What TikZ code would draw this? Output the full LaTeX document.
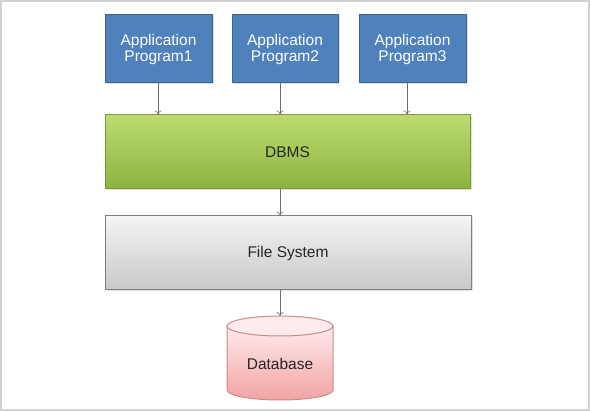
\documentclass[tikz,border=0pt]{standalone}
\usepackage{fontspec}
\setmainfont{Liberation Sans}
\usetikzlibrary{shadows,arrows.meta}

\definecolor{appblue}{HTML}{4F81BD}
\definecolor{appedge}{HTML}{3A6292}
\definecolor{dbmstop}{HTML}{BBDB70}
\definecolor{dbmsbot}{HTML}{8DB33E}
\definecolor{dbmsedge}{HTML}{7A9A38}
\definecolor{fstop}{HTML}{F4F4F4}
\definecolor{fsbot}{HTML}{C8C8C8}
\definecolor{fsedge}{HTML}{7F7F7F}
\definecolor{dbtop}{HTML}{FDEBEB}
\definecolor{dbbot}{HTML}{F4A3A3}
\definecolor{dbedge}{HTML}{C98A89}
\definecolor{arrowgray}{HTML}{6E6E6E}

\begin{document}
\begin{tikzpicture}[x=1pt,y=-1pt,
    font=\fontsize{15.5}{16}\selectfont,
    layer/.style={draw,line width=1pt,align=center,
      drop shadow={opacity=0.25,shadow xshift=1.5pt,shadow yshift=-1.5pt}},
    feed/.style={draw=arrowgray,line width=0.6pt,-{To[length=4pt,width=7pt]}}]

      \useasboundingbox (0,0) rectangle (590,411);
      \draw[gray!35,line width=1.5pt] (1,1) rectangle (589,410);

      \begin{scope}[every node/.style={layer,fill=appblue,draw=appedge,text=white,
          minimum height=68pt}]
        \node (app1) at (158.5,49) [minimum width=107pt] {Application\\Program1};
        \node (app2) at (285,49)   [minimum width=106pt] {Application\\Program2};
        \node (app3) at (412.5,49) [minimum width=107pt] {Application\\Program3};
      \end{scope}

      \node (dbms) at (287.5,152) [layer,draw=dbmsedge,top color=dbmstop,bottom color=dbmsbot,
        text=black!85,minimum width=365pt,minimum height=74pt] {DBMS};
      \node (fs) at (288,253) [layer,draw=fsedge,top color=fstop,bottom color=fsbot,
        text=black!85,minimum width=366pt,minimum height=74pt] {File System};

      % database cylinder
      \path[draw=dbedge,line width=1pt,top color=dbtop,bottom color=dbbot]
        (227,326) -- (227,390) arc[start angle=180,end angle=360,x radius=53pt,y radius=10pt]
        -- (333,326) -- cycle;
      \draw[dbedge,line width=1pt,fill=dbtop] (280,326) ellipse [x radius=53pt,y radius=10pt];
      \coordinate (dbtop) at (280,316);
      \node (db) at (280,364) [text=black!85] {Database};

      % connectors
      \draw[feed] ([xshift=-0.5pt]app1.south) -- ([xshift=-0.5pt]app1.south |- dbms.north);
      \draw[feed] ([xshift=-5pt]app2.south) -- ([xshift=-5pt]app2.south |- dbms.north);
      \draw[feed] ([xshift=-5.5pt]app3.south) -- ([xshift=-5.5pt]app3.south |- dbms.north);
      \draw[feed] (dbtop |- dbms.south) -- (dbtop |- fs.north);
      \draw[feed] (dbtop |- fs.south) -- (dbtop);

    \end{tikzpicture}
\end{document}
